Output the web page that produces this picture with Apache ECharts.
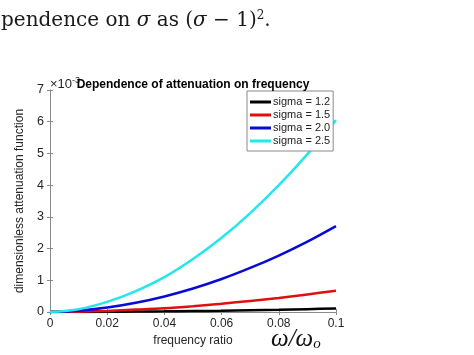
<!DOCTYPE html>
<html><head><meta charset="utf-8">
<script src="https://cdn.jsdelivr.net/npm/echarts@6/dist/echarts.min.js"></script>
<style>html,body{margin:0;padding:0;background:#fff}#c{width:474px;height:355px}</style>
</head><body><div id="c"></div><script>
const freq = [0, 0.01, 0.02, 0.03, 0.04, 0.05, 0.06, 0.07, 0.08, 0.09, 0.1];
const sigma12 = [0, 0.002, 0.006, 0.012, 0.02, 0.03, 0.04, 0.055, 0.07, 0.09, 0.11];
const sigma15 = [0, 0.01, 0.035, 0.075, 0.12, 0.185, 0.26, 0.35, 0.445, 0.555, 0.67];
const sigma20 = [0, 0.04, 0.14, 0.29, 0.49, 0.74, 1.04, 1.39, 1.78, 2.22, 2.71];
const sigma25 = [0, 0.09, 0.32, 0.66, 1.10, 1.67, 2.34, 3.12, 4.00, 4.98, 6.05];
const seriesNames = ['sigma = 1.2', 'sigma = 1.5', 'sigma = 2.0', 'sigma = 2.5'];
const seriesColors = ['#000000', '#e01010', '#0a0ad8', '#22e8e8'];
const seriesValues = [sigma12, sigma15, sigma20, sigma25];

const FONT = 'Liberation Sans, Arial, sans-serif';
const SERIF = 'DejaVu Serif, Liberation Serif, serif';
const chart = echarts.init(document.getElementById('c'), null, {renderer: 'canvas'});
const gridBox = {left: 50, right: 138, top: 90, bottom: 43};
const axisCommon = {
  min: 0,
  axisLine: {show: true, lineStyle: {color: '#8a8a8a', width: 1}},
  axisTick: {show: true, inside: true, length: 3, lineStyle: {color: '#8a8a8a'}},
  splitLine: {show: false}
};
chart.setOption({
  animation: false,
  backgroundColor: '#ffffff',
  title: {
    text: 'Dependence of attenuation on frequency',
    left: 188, top: 74, textAlign: 'center',
    textStyle: {fontFamily: FONT, fontSize: 12, fontWeight: 'bold', color: '#000'}
  },
  legend: {
    orient: 'vertical', left: 247, top: 91,
    data: seriesNames,
    icon: 'rect', itemWidth: 21, itemHeight: 3, itemGap: 1,
    padding: [5, 3, 4, 3],
    backgroundColor: '#fff', borderColor: '#8a8a8a', borderWidth: 1,
    textStyle: {fontFamily: FONT, fontSize: 11, color: '#222', lineHeight: 12, padding: [0, 0, 0, -3]}
  },
  grid: gridBox,
  xAxis: [
    Object.assign({}, axisCommon, {
      type: 'value', max: 0.1, interval: 0.02, position: 'bottom',
      name: 'frequency ratio', nameLocation: 'middle', nameGap: 22,
      nameTextStyle: {fontFamily: FONT, fontSize: 12, color: '#262626'},
      axisLabel: {margin: 6, fontFamily: FONT, fontSize: 12, color: '#262626'}
    }),
    Object.assign({}, axisCommon, {
      type: 'value', max: 0.1, interval: 0.02, position: 'top', axisLabel: {show: false}
    })
  ],
  yAxis: [
    Object.assign({}, axisCommon, {
      type: 'value', max: 7, interval: 1, position: 'left',
      name: 'dimensionless attenuation function', nameLocation: 'middle', nameGap: 15,
      nameTextStyle: {fontFamily: FONT, fontSize: 12, color: '#262626'},
      axisLabel: {margin: 6, fontFamily: FONT, fontSize: 12.5, color: '#262626'}
    }),
    Object.assign({}, axisCommon, {
      type: 'value', max: 7, interval: 1, position: 'right', axisLabel: {show: false}
    })
  ],
  series: seriesValues.map((vals, i) => ({
    name: seriesNames[i], type: 'line', xAxisIndex: 0, yAxisIndex: 0,
    data: freq.map((f, j) => [f, vals[j]]),
    smooth: 0.3, symbol: 'none',
    lineStyle: {color: seriesColors[i], width: 2.5},
    itemStyle: {color: seriesColors[i]}
  })),
  graphic: [
    {
      type: 'text', left: 50, top: 76, z: 1,
      style: {
        text: '×10{s|-3}', fontFamily: FONT, fontSize: 13, fill: '#262626',
        rich: {s: {fontSize: 9, verticalAlign: 'top', padding: [0, 0, 7, 0], fontFamily: FONT, fill: '#262626'}}
      }
    },
    {
      type: 'text', left: 1, top: 10,
      style: {
        text: 'pendence on {i|σ} as ({i|σ} − 1){s|2}.',
        fontFamily: SERIF, fontSize: 20, fill: '#1a1a1a',
        rich: {
          i: {fontStyle: 'italic', fontFamily: SERIF, fontSize: 20, fill: '#1a1a1a'},
          s: {fontSize: 12, verticalAlign: 'top', padding: [0, 0, 10, 0], fontFamily: SERIF, fill: '#1a1a1a'}
        }
      }
    },
    {
      type: 'text', left: 271, top: 327,
      style: {
        text: 'ω/ω{o|o}',
        fontFamily: 'Liberation Serif, serif', fontStyle: 'italic', fontSize: 25, fill: '#111',
        rich: {o: {fontStyle: 'italic', fontSize: 15, padding: [9, 0, 0, 0], fontFamily: 'Liberation Serif, serif', fill: '#111'}}
      }
    }
  ]
});
</script></body></html>
